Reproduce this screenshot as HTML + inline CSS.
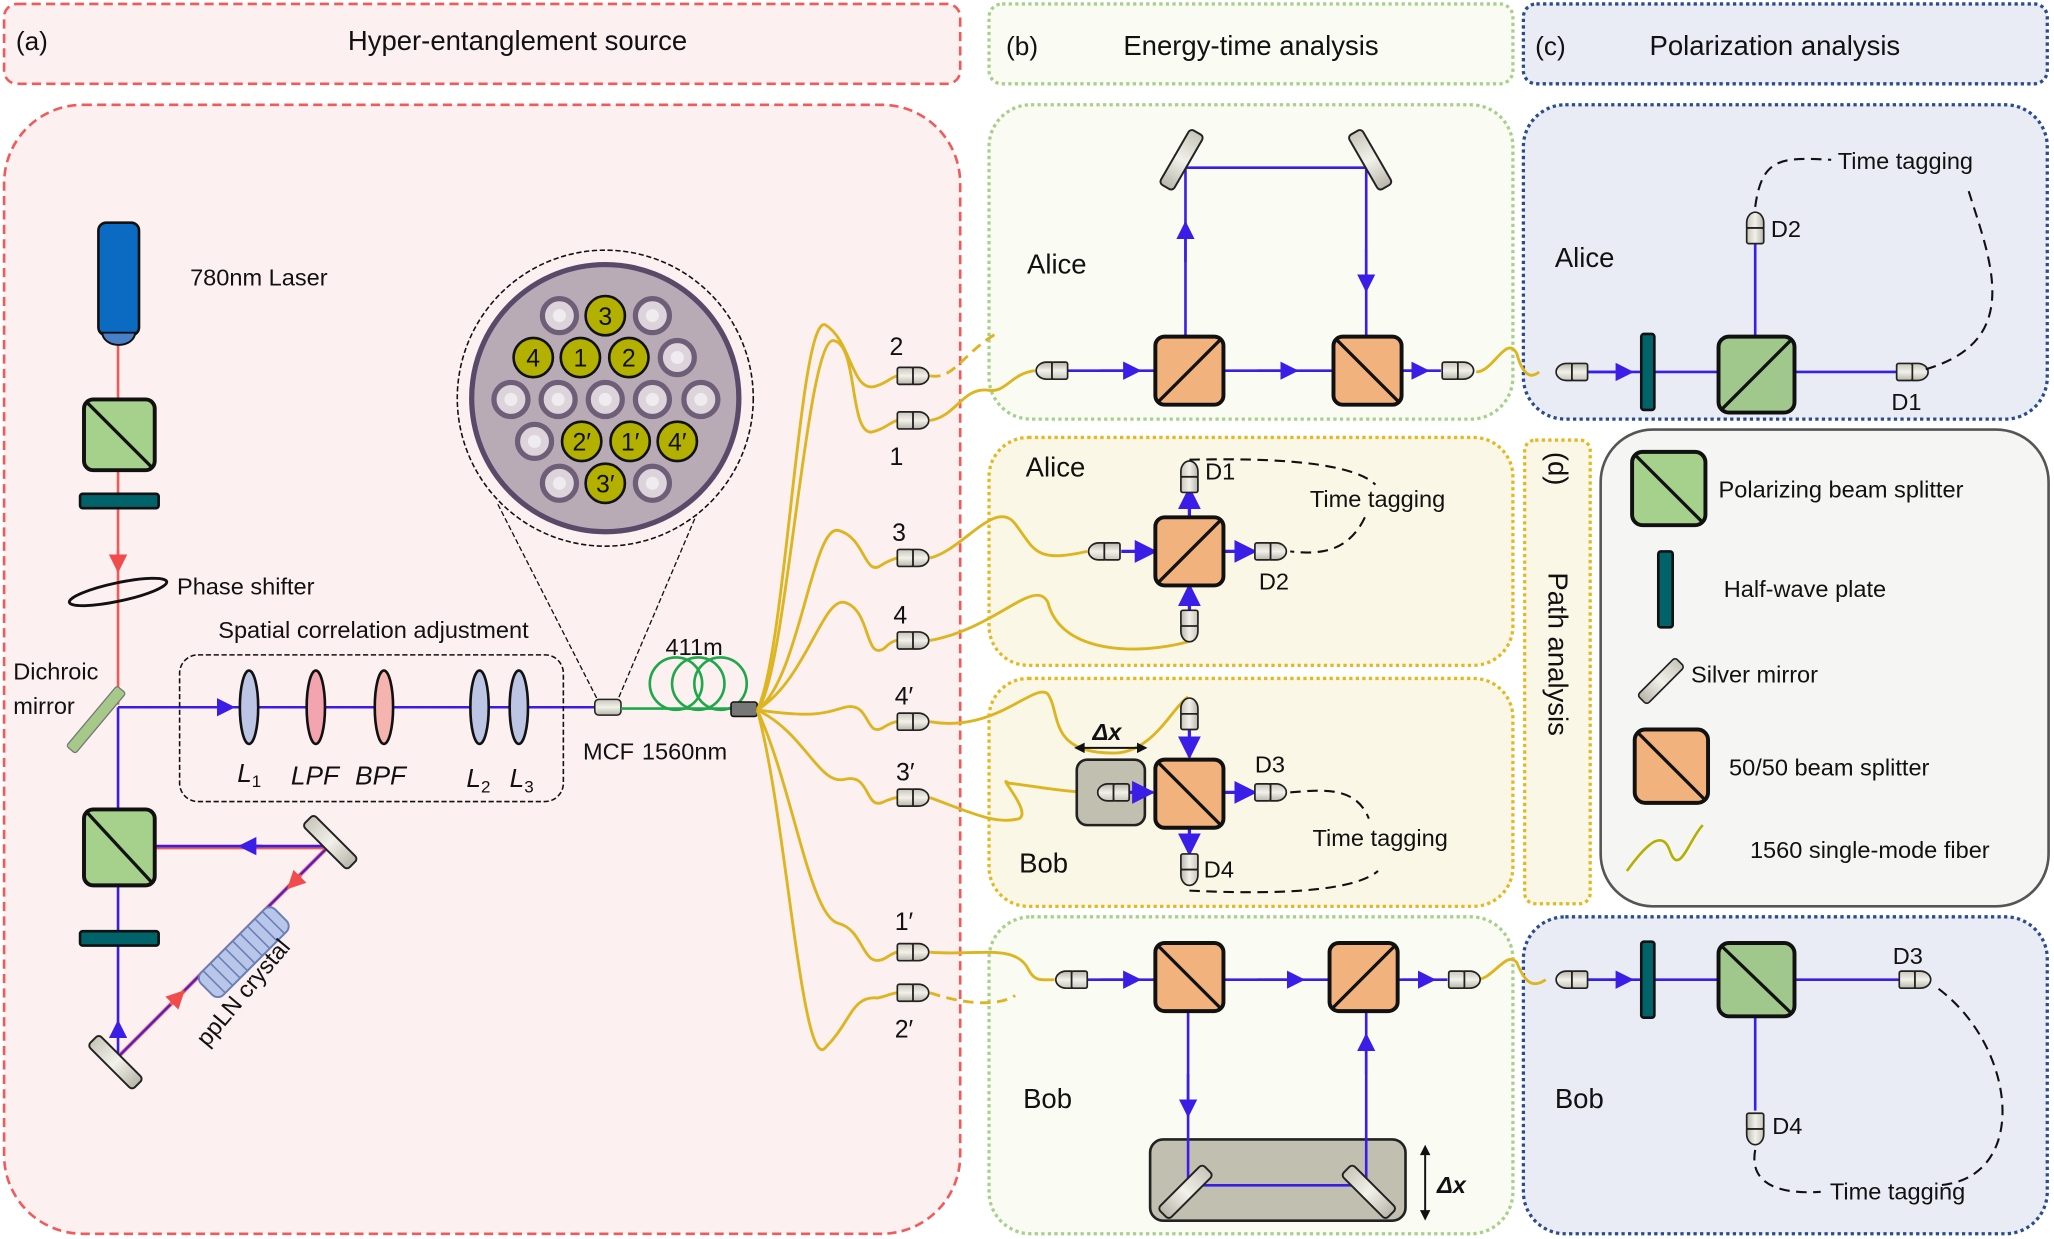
<!DOCTYPE html>
<html><head><meta charset="utf-8"><style>
html,body{margin:0;padding:0;background:#fff}
svg{display:block}
text{font-family:"Liberation Sans",sans-serif;fill:#111}
</style></head><body>
<svg width="2054" height="1239" viewBox="0 0 1568 946" xmlns="http://www.w3.org/2000/svg">
<defs>
<linearGradient id="dg" x1="0" y1="0" x2="0" y2="1"><stop offset="0" stop-color="#c8c6ba"/><stop offset="0.5" stop-color="#f2f1ea"/><stop offset="1" stop-color="#b8b6aa"/></linearGradient>
<g id="det"><rect x="-12" y="-6.5" width="12" height="13" rx="1.5" fill="url(#dg)" stroke="#222" stroke-width="1.3"/><path d="M0,-6.5 h4 a8,6.5 0 0 1 0,13 h-4 z" fill="url(#dg)" stroke="#222" stroke-width="1.3"/></g>
<marker id="ab" viewBox="0 0 10 10" refX="9" refY="5" markerWidth="7" markerHeight="7" orient="auto"><path d="M0,0 L10,5 L0,10 z" fill="#3a1ee8"/></marker>
<marker id="ar" viewBox="0 0 10 10" refX="9" refY="5" markerWidth="7" markerHeight="7" orient="auto"><path d="M0,0 L10,5 L0,10 z" fill="#f24b4b"/></marker>
<g id="bsA"><rect x="0" y="0" width="52" height="52" rx="7" fill="#f2b27e" stroke="#111" stroke-width="3"/></g>
<g id="mir"><rect x="-6" y="-24" width="12" height="48" rx="3" fill="url(#dg)" stroke="#222" stroke-width="1.5"/></g>
</defs>

<rect x="3" y="3" width="730" height="61" rx="10" fill="#fcf0f1" stroke="#f25a5a" stroke-width="2" stroke-dasharray="7,4"/>
<rect x="3" y="80" width="730" height="862" rx="60" fill="#fcf0f1" stroke="#f25a5a" stroke-width="2" stroke-dasharray="7,4"/>
<rect x="755" y="3" width="400" height="61" rx="10" fill="#fafcf4" stroke="#a8d08a" stroke-width="2.5" stroke-dasharray="2.5,2.5"/>
<rect x="1163" y="3" width="400" height="61" rx="10" fill="#e9ecf5" stroke="#2a4c8f" stroke-width="2.5" stroke-dasharray="2.5,2.5"/>
<rect x="755" y="80" width="400" height="240" rx="32" fill="#fafcf4" stroke="#a8d08a" stroke-width="2.5" stroke-dasharray="2.5,2.5"/>
<rect x="1163" y="80" width="400" height="240" rx="32" fill="#e9ecf5" stroke="#2a4c8f" stroke-width="2.5" stroke-dasharray="2.5,2.5"/>
<rect x="755" y="334" width="400" height="174" rx="30" fill="#fbf7e7" stroke="#e3b820" stroke-width="2.5" stroke-dasharray="2.5,2.5"/>
<rect x="755" y="518" width="400" height="174" rx="30" fill="#fbf7e7" stroke="#e3b820" stroke-width="2.5" stroke-dasharray="2.5,2.5"/>
<rect x="1164" y="336" width="50" height="354" rx="8" fill="#fbf7e7" stroke="#e3b820" stroke-width="2.5" stroke-dasharray="2.5,2.5"/>
<rect x="755" y="700" width="400" height="242" rx="32" fill="#fafcf4" stroke="#a8d08a" stroke-width="2.5" stroke-dasharray="2.5,2.5"/>
<rect x="1163" y="700" width="400" height="242" rx="32" fill="#e9ecf5" stroke="#2a4c8f" stroke-width="2.5" stroke-dasharray="2.5,2.5"/>
<rect x="1222" y="328" width="342" height="364" rx="40" fill="#f5f5f4" stroke="#555" stroke-width="2"/>

<text x="12" y="38" font-size="20">(a)</text>
<text x="395" y="38" font-size="21" text-anchor="middle">Hyper-entanglement source</text>
<text x="768" y="42" font-size="20">(b)</text>
<text x="955" y="42" font-size="21" text-anchor="middle">Energy-time analysis</text>
<text x="1172" y="42" font-size="20">(c)</text>
<text x="1355" y="42" font-size="21" text-anchor="middle">Polarization analysis</text>
<text transform="translate(1182,345) rotate(90)" font-size="21">(d)</text>
<text transform="translate(1182,437) rotate(90)" font-size="21">Path analysis</text>

<line x1="90" y1="258" x2="90" y2="538" stroke="#f25a5a" stroke-width="2"/>
<line x1="90" y1="420" x2="90" y2="436" stroke="#f25a5a" stroke-width="2" marker-end="url(#ar)"/>
<rect x="75" y="170" width="31" height="86" rx="6" fill="#0b6bc2" stroke="#111" stroke-width="2"/>
<path d="M78,254 h25 a12,9 0 0 1 -25,0z" fill="#4a7fc9" stroke="#111" stroke-width="1.5"/>
<text x="145" y="218" font-size="18">780nm Laser</text>
<rect x="64" y="305" width="54" height="54" rx="7" fill="#a6d18c" stroke="#111" stroke-width="3"/>
<line x1="66" y1="307" x2="116" y2="357" stroke="#111" stroke-width="2.5"/>
<rect x="61" y="377" width="60" height="11" rx="2" fill="#006369" stroke="#111" stroke-width="2"/>
<ellipse cx="90" cy="452" rx="38" ry="7" transform="rotate(-12 90 452)" fill="none" stroke="#111" stroke-width="2.2"/>
<text x="135" y="454" font-size="18">Phase shifter</text>
<text x="10" y="519" font-size="18">Dichroic</text>
<text x="10" y="545" font-size="18">mirror</text>
<line x1="90" y1="540" x2="455" y2="540" stroke="#3a1ee8" stroke-width="2"/>
<line x1="120" y1="540" x2="178" y2="540" stroke="#3a1ee8" stroke-width="2" marker-end="url(#ab)"/>
<line x1="90" y1="540" x2="90" y2="806" stroke="#3a1ee8" stroke-width="2"/>
<line x1="90" y1="790" x2="90" y2="780" stroke="#3a1ee8" stroke-width="2" marker-end="url(#ab)"/>
<line x1="91" y1="806" x2="252" y2="645" stroke="#f25a5a" stroke-width="3"/>
<line x1="91" y1="806" x2="252" y2="645" stroke="#3a1ee8" stroke-width="1.5"/>
<line x1="118" y1="647" x2="252" y2="647" stroke="#f25a5a" stroke-width="3"/>
<line x1="118" y1="646" x2="252" y2="646" stroke="#3a1ee8" stroke-width="2"/>
<line x1="200" y1="646" x2="183" y2="646" stroke="#3a1ee8" stroke-width="2" marker-end="url(#ab)"/>
<line x1="130" y1="767" x2="140" y2="757" stroke="#f25a5a" stroke-width="2" marker-end="url(#ar)"/>
<line x1="230" y1="668" x2="220" y2="678" stroke="#f25a5a" stroke-width="2" marker-end="url(#ar)"/>
<rect x="52" y="535" width="9" height="60" rx="2" transform="rotate(40 56 535) translate(22 -30)" fill="#a6c98a" stroke="#777" stroke-width="1"/>
<rect x="64" y="618" width="54" height="58" rx="7" fill="#a6d18c" stroke="#111" stroke-width="3"/>
<line x1="66" y1="620" x2="116" y2="674" stroke="#111" stroke-width="2.5"/>
<rect x="61" y="711" width="60" height="11" rx="2" fill="#006369" stroke="#111" stroke-width="2"/>
<use href="#mir" transform="translate(252,643) rotate(-45)"/>
<use href="#mir" transform="translate(88,811) rotate(-45)"/>
<g transform="translate(186,727) rotate(-45)">
<rect x="-40" y="-12" width="80" height="24" rx="6" fill="#b8c6ea" stroke="#6a7fb5" stroke-width="1.5"/>
<path d="M-32,-12v24M-24,-12v24M-16,-12v24M-8,-12v24M0,-12v24M8,-12v24M16,-12v24M24,-12v24M32,-12v24" stroke="#6a7fb5" stroke-width="1.2"/>
</g>
<text transform="translate(158,800) rotate(-50)" font-size="18">ppLN crystal</text>

<text x="285" y="487" font-size="18" text-anchor="middle">Spatial correlation adjustment</text>
<rect x="137" y="500" width="293" height="112" rx="14" fill="none" stroke="#111" stroke-width="1.2" stroke-dasharray="4,2"/>
<ellipse cx="190" cy="540" rx="7" ry="28" fill="#bcc6e4" stroke="#111" stroke-width="2"/>
<ellipse cx="241" cy="540" rx="7" ry="28" fill="#f3a4ae" stroke="#111" stroke-width="2"/>
<ellipse cx="293" cy="540" rx="7" ry="28" fill="#f6b4b0" stroke="#111" stroke-width="2"/>
<ellipse cx="366" cy="540" rx="7" ry="28" fill="#bcc6e4" stroke="#111" stroke-width="2"/>
<ellipse cx="396" cy="540" rx="7" ry="28" fill="#bcc6e4" stroke="#111" stroke-width="2"/>
<g font-family="Liberation Serif" font-style="italic" font-size="20">
<text x="181" y="597">L<tspan font-size="13" font-style="normal" dy="4">1</tspan></text>
<text x="222" y="599">LPF</text>
<text x="271" y="599">BPF</text>
<text x="356" y="601">L<tspan font-size="13" font-style="normal" dy="4">2</tspan></text>
<text x="389" y="601">L<tspan font-size="13" font-style="normal" dy="4">3</tspan></text>
</g>

<line x1="380" y1="385" x2="458" y2="538" stroke="#111" stroke-width="1" stroke-dasharray="4,2"/>
<line x1="535" y1="385" x2="470" y2="538" stroke="#111" stroke-width="1" stroke-dasharray="4,2"/>
<circle cx="462" cy="304" r="113" fill="#fcf0f1" stroke="#111" stroke-width="1.2" stroke-dasharray="4,2"/>
<circle cx="462" cy="304" r="102" fill="#b8abb5" stroke="#5a4a6a" stroke-width="4"/>
<g fill="#dcd4da" stroke="#6e5e78" stroke-width="4">
<circle cx="427" cy="241" r="13"/><circle cx="498" cy="241" r="13"/>
<circle cx="517" cy="273" r="13"/>
<circle cx="390" cy="305" r="13"/><circle cx="426" cy="305" r="13"/><circle cx="462" cy="305" r="13"/><circle cx="498" cy="305" r="13"/><circle cx="535" cy="305" r="13"/>
<circle cx="408" cy="337" r="13"/>
<circle cx="427" cy="369" r="13"/><circle cx="498" cy="369" r="13"/>
</g>
<g fill="#efecef">
<circle cx="427" cy="241" r="5"/><circle cx="498" cy="241" r="5"/><circle cx="517" cy="273" r="5"/>
<circle cx="390" cy="305" r="5"/><circle cx="426" cy="305" r="5"/><circle cx="462" cy="305" r="5"/><circle cx="498" cy="305" r="5"/><circle cx="535" cy="305" r="5"/>
<circle cx="408" cy="337" r="5"/><circle cx="427" cy="369" r="5"/><circle cx="498" cy="369" r="5"/>
</g>
<g fill="#b3b000" stroke="#111" stroke-width="2">
<circle cx="462" cy="241" r="15"/><circle cx="407" cy="273" r="15"/><circle cx="443" cy="273" r="15"/><circle cx="480" cy="273" r="15"/>
<circle cx="444" cy="337" r="15"/><circle cx="481" cy="337" r="15"/><circle cx="517" cy="337" r="15"/><circle cx="462" cy="369" r="15"/>
</g>
<g font-family="Liberation Serif" font-size="19" text-anchor="middle">
<text x="462" y="248">3</text><text x="407" y="280">4</text><text x="443" y="280">1</text><text x="480" y="280">2</text>
<text x="444" y="344">2′</text><text x="481" y="344">1′</text><text x="517" y="344">4′</text><text x="462" y="376">3′</text>
</g>
<rect x="454" y="534" width="20" height="12" rx="3" fill="url(#dg)" stroke="#222" stroke-width="1.2"/>
<text x="445" y="580" font-size="18">MCF</text>
<text x="490" y="580" font-size="18">1560nm</text>
<text x="508" y="500" font-size="18">411m</text>
<g fill="none" stroke="#1fa84a" stroke-width="2">
<circle cx="516" cy="522" r="20"/><circle cx="533" cy="522" r="20"/><circle cx="550" cy="522" r="20"/>
<line x1="474" y1="541" x2="560" y2="541"/>
</g>
<rect x="558" y="536" width="20" height="11" rx="2" fill="#777" stroke="#111" stroke-width="1.2"/>

<g fill="none" stroke="#dcb520" stroke-width="2.2">
<path d="M578,542 C600,500 610,240 630,248 C650,260 650,300 668,295 C678,292 680,288 685,287"/>
<path d="M578,542 C600,520 615,260 636,260 C655,262 648,330 665,330 C675,328 680,322 685,321"/>
<path d="M578,542 C610,520 620,400 640,405 C660,410 660,440 672,432 C678,428 682,427 685,426"/>
<path d="M578,542 C615,520 628,455 645,460 C665,466 660,505 675,495 C680,490 683,489 685,489"/>
<path d="M578,542 C620,548 628,545 645,540 C665,535 660,565 675,555 C680,552 683,551 685,551"/>
<path d="M578,542 C615,560 625,600 645,595 C665,590 660,620 675,612 C680,610 683,609 685,609"/>
<path d="M578,542 C605,600 618,700 640,705 C660,710 658,740 675,732 C680,729 683,727 685,727"/>
<path d="M578,542 C600,620 612,820 630,800 C650,780 650,760 670,762 C678,760 682,758 685,758"/>
<path d="M710,287 C728,290 735,270 760,255" stroke-dasharray="8,5"/>
<path d="M710,321 C730,318 735,295 755,298 C768,300 772,285 790,283"/>
<path d="M710,426 C735,420 760,380 775,400 C790,420 790,430 830,421"/>
<path d="M710,489 C760,480 790,440 800,460 C810,500 870,500 907,490"/>
<path d="M710,551 C760,560 790,520 800,530 C810,545 800,575 850,575 C880,575 895,540 907,532"/>
<path d="M710,609 C740,620 760,630 778,625 C788,620 760,590 770,598 C790,600 810,605 840,605"/>
<path d="M710,727 C745,730 775,720 785,740 C790,750 795,748 805,748"/>
<path d="M710,758 C730,765 760,770 775,760" stroke-dasharray="8,5"/>
<path d="M1127,284 C1140,284 1150,255 1158,270 C1162,285 1168,290 1175,284"/>
<path d="M1127,748 C1140,748 1150,725 1158,735 C1164,750 1170,755 1180,748"/>
</g>
<g font-family="Liberation Serif" font-size="19">
<text x="679" y="271">2</text><text x="679" y="355">1</text><text x="681" y="413">3</text><text x="682" y="476">4</text>
<text x="683" y="538">4′</text><text x="684" y="596">3′</text><text x="683" y="710">1′</text><text x="683" y="792">2′</text>
</g>
<use href="#det" transform="translate(697,287)"/><use href="#det" transform="translate(697,321)"/>
<use href="#det" transform="translate(697,426)"/><use href="#det" transform="translate(697,489)"/>
<use href="#det" transform="translate(697,551)"/><use href="#det" transform="translate(697,609)"/>
<use href="#det" transform="translate(697,727)"/><use href="#det" transform="translate(697,758)"/>

<g stroke="#3a1ee8" stroke-width="2" fill="none">
<line x1="815" y1="283" x2="1100" y2="283"/>
<line x1="905" y1="257" x2="905" y2="128"/><line x1="905" y1="128" x2="1043" y2="128"/><line x1="1043" y1="128" x2="1043" y2="257"/>
<line x1="840" y1="283" x2="870" y2="283" marker-end="url(#ab)"/>
<line x1="960" y1="283" x2="990" y2="283" marker-end="url(#ab)"/>
<line x1="1070" y1="283" x2="1090" y2="283" marker-end="url(#ab)"/>
<line x1="905" y1="200" x2="905" y2="170" marker-end="url(#ab)"/>
<line x1="1043" y1="190" x2="1043" y2="222" marker-end="url(#ab)"/>
</g>
<use href="#det" transform="translate(803,283) rotate(180)"/>
<use href="#det" transform="translate(1113,283)"/>
<use href="#bsA" transform="translate(882,257)"/><line x1="884" y1="307" x2="932" y2="259" stroke="#111" stroke-width="2.5"/>
<use href="#bsA" transform="translate(1018,257)"/><line x1="1020" y1="259" x2="1068" y2="307" stroke="#111" stroke-width="2.5"/>
<use href="#mir" transform="translate(902,122) rotate(30)"/>
<use href="#mir" transform="translate(1046,122) rotate(-30)"/>
<text x="784" y="209" font-size="21">Alice</text>

<g stroke="#3a1ee8" stroke-width="2" fill="none">
<line x1="1188" y1="284" x2="1450" y2="284"/>
<line x1="1340" y1="257" x2="1340" y2="185"/>
<line x1="1210" y1="284" x2="1246" y2="284" marker-end="url(#ab)"/>
</g>
<use href="#det" transform="translate(1200,284) rotate(180)"/>
<rect x="1253" y="255" width="10" height="58" rx="2" fill="#006369" stroke="#111" stroke-width="2"/>
<rect x="1312" y="257" width="58" height="58" rx="8" fill="#a0c88c" stroke="#111" stroke-width="3"/>
<line x1="1314" y1="313" x2="1368" y2="259" stroke="#111" stroke-width="2.5"/>
<use href="#det" transform="translate(1340,174) rotate(-90)"/>
<use href="#det" transform="translate(1460,284)"/>
<text x="1352" y="181" font-size="18">D2</text>
<text x="1444" y="313" font-size="18">D1</text>
<text x="1187" y="204" font-size="21">Alice</text>
<text x="1403" y="129" font-size="18">Time tagging</text>
<path d="M1340,158 C1345,120 1360,120 1398,122" fill="none" stroke="#111" stroke-width="1.6" stroke-dasharray="8,5"/>
<path d="M1503,146 C1520,200 1545,260 1470,282" fill="none" stroke="#111" stroke-width="1.6" stroke-dasharray="8,5"/>

<g stroke="#3a1ee8" stroke-width="2.5" fill="none">
<line x1="856" y1="421" x2="882" y2="421" marker-end="url(#ab)"/>
<line x1="934" y1="421" x2="958" y2="421" marker-end="url(#ab)"/>
<line x1="908" y1="395" x2="908" y2="373" marker-end="url(#ab)"/>
<line x1="908" y1="466" x2="908" y2="447" marker-end="url(#ab)"/>
</g>
<use href="#det" transform="translate(843,421) rotate(180)"/>
<use href="#det" transform="translate(970,421)"/>
<use href="#det" transform="translate(908,364) rotate(-90)"/>
<use href="#det" transform="translate(908,478) rotate(90)"/>
<use href="#bsA" transform="translate(882,395)"/><line x1="884" y1="445" x2="932" y2="397" stroke="#111" stroke-width="2.5"/>
<text x="783" y="364" font-size="21">Alice</text>
<text x="920" y="366" font-size="18">D1</text>
<text x="961" y="450" font-size="18">D2</text>
<text x="1000" y="387" font-size="18">Time tagging</text>
<path d="M908,351 C950,350 1030,350 1050,370" fill="none" stroke="#111" stroke-width="1.6" stroke-dasharray="8,5"/>
<path d="M1042,395 C1030,420 1010,424 985,421" fill="none" stroke="#111" stroke-width="1.6" stroke-dasharray="8,5"/>

<rect x="822" y="580" width="52" height="50" rx="8" fill="#c1bfb0" stroke="#222" stroke-width="2"/>
<line x1="822" y1="571" x2="874" y2="571" stroke="#111" stroke-width="1.5"/>
<path d="M820,571 l8,-4 v8z M876,571 l-8,-4 v8z" fill="#111"/>
<text x="834" y="565" font-size="18" font-family="Liberation Serif" font-style="italic" font-weight="bold">Δx</text>
<g stroke="#3a1ee8" stroke-width="2.5" fill="none">
<line x1="858" y1="605" x2="880" y2="605" marker-end="url(#ab)"/>
<line x1="934" y1="605" x2="958" y2="605" marker-end="url(#ab)"/>
<line x1="908" y1="556" x2="908" y2="578" marker-end="url(#ab)"/>
<line x1="908" y1="631" x2="908" y2="652" marker-end="url(#ab)"/>
</g>
<use href="#det" transform="translate(850,605) rotate(180)"/>
<use href="#det" transform="translate(970,605)"/>
<use href="#det" transform="translate(908,545) rotate(-90)"/>
<use href="#det" transform="translate(908,664) rotate(90)"/>
<use href="#bsA" transform="translate(882,580)"/><line x1="884" y1="582" x2="932" y2="630" stroke="#111" stroke-width="2.5"/>
<text x="958" y="590" font-size="18">D3</text>
<text x="919" y="670" font-size="18">D4</text>
<text x="778" y="666" font-size="21">Bob</text>
<text x="1002" y="646" font-size="18">Time tagging</text>
<path d="M985,605 C1010,603 1035,600 1045,625" fill="none" stroke="#111" stroke-width="1.6" stroke-dasharray="8,5"/>
<path d="M908,680 C950,682 1030,684 1052,665" fill="none" stroke="#111" stroke-width="1.6" stroke-dasharray="8,5"/>

<rect x="878" y="870" width="195" height="62" rx="10" fill="#c1bfb0" stroke="#222" stroke-width="2"/>
<g stroke="#3a1ee8" stroke-width="2" fill="none">
<line x1="818" y1="748" x2="1105" y2="748"/>
<line x1="907" y1="772" x2="907" y2="905"/><line x1="907" y1="905" x2="1043" y2="905"/><line x1="1043" y1="905" x2="1043" y2="772"/>
<line x1="840" y1="748" x2="870" y2="748" marker-end="url(#ab)"/>
<line x1="960" y1="748" x2="995" y2="748" marker-end="url(#ab)"/>
<line x1="1070" y1="748" x2="1095" y2="748" marker-end="url(#ab)"/>
<line x1="907" y1="820" x2="907" y2="852" marker-end="url(#ab)"/>
<line x1="1043" y1="820" x2="1043" y2="790" marker-end="url(#ab)"/>
</g>
<use href="#det" transform="translate(818,748) rotate(180)"/>
<use href="#det" transform="translate(1118,748)"/>
<use href="#bsA" transform="translate(882,720)"/><line x1="884" y1="722" x2="932" y2="770" stroke="#111" stroke-width="2.5"/>
<use href="#bsA" transform="translate(1015,720)"/><line x1="1017" y1="770" x2="1065" y2="722" stroke="#111" stroke-width="2.5"/>
<use href="#mir" transform="translate(905,910) rotate(45)"/>
<use href="#mir" transform="translate(1045,910) rotate(-45)"/>
<line x1="1088" y1="876" x2="1088" y2="930" stroke="#111" stroke-width="1.5"/>
<path d="M1088,874 l-4,8 h8z M1088,932 l-4,-8 h8z" fill="#111"/>
<text x="1097" y="911" font-size="18" font-family="Liberation Serif" font-style="italic" font-weight="bold">Δx</text>
<text x="781" y="846" font-size="21">Bob</text>

<g stroke="#3a1ee8" stroke-width="2" fill="none">
<line x1="1200" y1="748" x2="1462" y2="748"/>
<line x1="1340" y1="775" x2="1340" y2="848"/>
<line x1="1210" y1="748" x2="1246" y2="748" marker-end="url(#ab)"/>
</g>
<use href="#det" transform="translate(1200,748) rotate(180)"/>
<rect x="1253" y="719" width="10" height="58" rx="2" fill="#006369" stroke="#111" stroke-width="2"/>
<rect x="1312" y="720" width="58" height="56" rx="8" fill="#a0c88c" stroke="#111" stroke-width="3"/>
<line x1="1314" y1="722" x2="1368" y2="774" stroke="#111" stroke-width="2.5"/>
<use href="#det" transform="translate(1462,748)"/>
<use href="#det" transform="translate(1340,862) rotate(90)"/>
<text x="1445" y="736" font-size="18">D3</text>
<text x="1353" y="866" font-size="18">D4</text>
<text x="1187" y="846" font-size="21">Bob</text>
<text x="1397" y="916" font-size="18">Time tagging</text>
<path d="M1480,755 C1540,800 1550,900 1480,905" fill="none" stroke="#111" stroke-width="1.6" stroke-dasharray="8,5"/>
<path d="M1340,878 C1335,905 1360,912 1390,910" fill="none" stroke="#111" stroke-width="1.6" stroke-dasharray="8,5"/>

<rect x="1246" y="345" width="56" height="56" rx="8" fill="#a6d18c" stroke="#111" stroke-width="3"/>
<line x1="1248" y1="347" x2="1300" y2="399" stroke="#111" stroke-width="2.5"/>
<text x="1312" y="380" font-size="18">Polarizing beam splitter</text>
<rect x="1266" y="421" width="11" height="58" rx="2" fill="#006369" stroke="#111" stroke-width="2"/>
<text x="1316" y="456" font-size="18">Half-wave plate</text>
<use href="#mir" transform="translate(1268,520) rotate(45) scale(0.85)"/>
<text x="1291" y="521" font-size="18">Silver mirror</text>
<rect x="1248" y="557" width="56" height="56" rx="8" fill="#f2b27e" stroke="#111" stroke-width="3"/>
<line x1="1250" y1="559" x2="1302" y2="611" stroke="#111" stroke-width="2.5"/>
<text x="1320" y="592" font-size="18">50/50 beam splitter</text>
<path d="M1242,665 C1260,640 1270,635 1275,650 C1282,670 1290,640 1300,630" fill="none" stroke="#b3b000" stroke-width="2"/>
<text x="1336" y="655" font-size="18">1560 single-mode fiber</text>
</svg>
</body></html>
